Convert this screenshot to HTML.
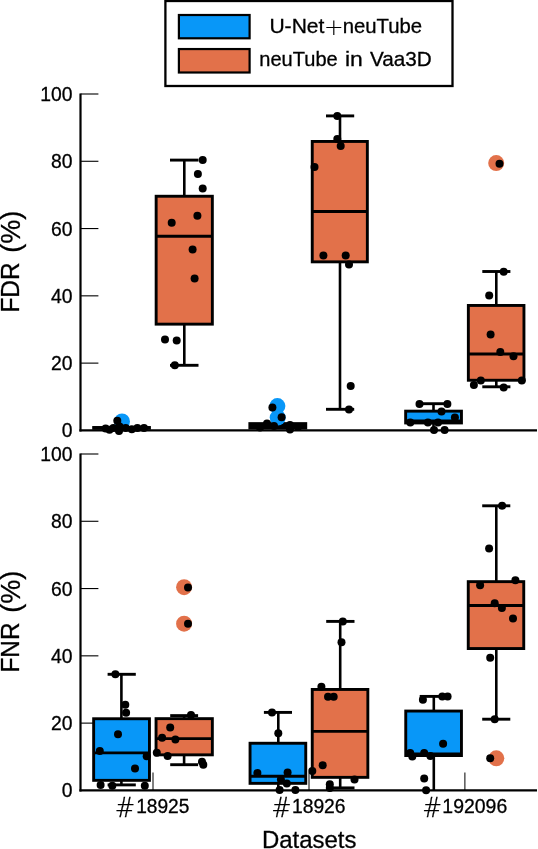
<!DOCTYPE html>
<html lang="en">
<head>
<meta charset="utf-8">
<title>FDR and FNR box plots</title>
<style>
html,body{margin:0;padding:0;background:#fff;}
svg{display:block;}
text{font-family:"Liberation Sans", sans-serif;fill:#000;stroke:#000;stroke-width:0.3px;}
</style>
</head>
<body>
<svg width="538" height="849" viewBox="0 0 538 849">
<rect x="0" y="0" width="538" height="849" fill="#fff"/>
<line x1="80.50" y1="93.40" x2="80.50" y2="431.50" stroke="#000" stroke-width="2.2"/>
<line x1="79.40" y1="430.40" x2="537.00" y2="430.40" stroke="#000" stroke-width="2.2"/>
<text x="61.74" y="437.40" font-size="20" textLength="10.76" lengthAdjust="spacingAndGlyphs">0</text>
<line x1="80.50" y1="363.12" x2="98.40" y2="363.12" stroke="#000" stroke-width="1.1"/>
<text x="51.01" y="370.12" font-size="20" textLength="21.51" lengthAdjust="spacingAndGlyphs">20</text>
<line x1="80.50" y1="295.84" x2="98.40" y2="295.84" stroke="#000" stroke-width="1.1"/>
<text x="51.01" y="302.84" font-size="20" textLength="21.51" lengthAdjust="spacingAndGlyphs">40</text>
<line x1="80.50" y1="228.56" x2="98.40" y2="228.56" stroke="#000" stroke-width="1.1"/>
<text x="51.01" y="235.56" font-size="20" textLength="21.51" lengthAdjust="spacingAndGlyphs">60</text>
<line x1="80.50" y1="161.28" x2="98.40" y2="161.28" stroke="#000" stroke-width="1.1"/>
<text x="51.01" y="168.28" font-size="20" textLength="21.51" lengthAdjust="spacingAndGlyphs">80</text>
<line x1="80.50" y1="94.00" x2="98.40" y2="94.00" stroke="#000" stroke-width="1.1"/>
<text x="40.28" y="101.00" font-size="20" textLength="32.27" lengthAdjust="spacingAndGlyphs">100</text>
<line x1="80.50" y1="453.40" x2="80.50" y2="791.50" stroke="#000" stroke-width="2.2"/>
<line x1="79.40" y1="790.40" x2="537.00" y2="790.40" stroke="#000" stroke-width="2.2"/>
<text x="61.74" y="797.40" font-size="20" textLength="10.76" lengthAdjust="spacingAndGlyphs">0</text>
<line x1="80.50" y1="723.12" x2="98.40" y2="723.12" stroke="#000" stroke-width="1.1"/>
<text x="51.01" y="730.12" font-size="20" textLength="21.51" lengthAdjust="spacingAndGlyphs">20</text>
<line x1="80.50" y1="655.84" x2="98.40" y2="655.84" stroke="#000" stroke-width="1.1"/>
<text x="51.01" y="662.84" font-size="20" textLength="21.51" lengthAdjust="spacingAndGlyphs">40</text>
<line x1="80.50" y1="588.56" x2="98.40" y2="588.56" stroke="#000" stroke-width="1.1"/>
<text x="51.01" y="595.56" font-size="20" textLength="21.51" lengthAdjust="spacingAndGlyphs">60</text>
<line x1="80.50" y1="521.28" x2="98.40" y2="521.28" stroke="#000" stroke-width="1.1"/>
<text x="51.01" y="528.28" font-size="20" textLength="21.51" lengthAdjust="spacingAndGlyphs">80</text>
<line x1="80.50" y1="454.00" x2="98.40" y2="454.00" stroke="#000" stroke-width="1.1"/>
<text x="40.28" y="461.00" font-size="20" textLength="32.27" lengthAdjust="spacingAndGlyphs">100</text>
<line x1="153.00" y1="772.50" x2="153.00" y2="790.40" stroke="#000" stroke-width="1.0"/>
<line x1="309.00" y1="772.50" x2="309.00" y2="790.40" stroke="#000" stroke-width="1.0"/>
<line x1="464.90" y1="772.50" x2="464.90" y2="790.40" stroke="#000" stroke-width="1.0"/>
<rect x="165.4" y="1.0" width="287.1" height="85.0" fill="#fff" stroke="#000" stroke-width="2.3"/>
<rect x="178.9" y="15.0" width="70.7" height="23.3" fill="#0897F8" stroke="#000" stroke-width="2.2"/>
<rect x="178.9" y="49.05" width="70.7" height="23.45" fill="#E2714A" stroke="#000" stroke-width="2.2"/>
<text><tspan x="269.42" y="32.80" font-size="21" textLength="55.02" lengthAdjust="spacingAndGlyphs">U-Net</tspan><tspan x="323.68" y="34.50" font-size="23.5" textLength="20.11" lengthAdjust="spacingAndGlyphs" style="font-family:'DejaVu Sans Light','DejaVu Sans',sans-serif;font-weight:200;stroke:none">+</tspan><tspan x="342.68" y="32.80" font-size="21" textLength="79.45" lengthAdjust="spacingAndGlyphs">neuTube</tspan></text>
<text><tspan x="259.30" y="66.40" font-size="21" textLength="78.42" lengthAdjust="spacingAndGlyphs">neuTube</tspan> <tspan x="344.91" y="66.40" font-size="21" textLength="17.86" lengthAdjust="spacingAndGlyphs">in</tspan> <tspan x="370.00" y="66.40" font-size="21" textLength="61.81" lengthAdjust="spacingAndGlyphs">Vaa3D</tspan></text>
<g transform="translate(18.7,0.0) rotate(-90)">
<text><tspan x="-312.55" y="0.00" font-size="25" textLength="50.16" lengthAdjust="spacingAndGlyphs">FDR</tspan> <tspan x="-252.72" y="1.20" font-size="27" textLength="42.09" lengthAdjust="spacingAndGlyphs">(%)</tspan></text>
</g>
<g transform="translate(18.7,360.0) rotate(-90)">
<text><tspan x="-312.55" y="0.00" font-size="25" textLength="50.16" lengthAdjust="spacingAndGlyphs">FNR</tspan> <tspan x="-252.72" y="1.20" font-size="27" textLength="42.09" lengthAdjust="spacingAndGlyphs">(%)</tspan></text>
</g>
<text><tspan x="114.87" y="816.60" font-size="26.5" textLength="20.43" lengthAdjust="spacingAndGlyphs" style="font-family:'DejaVu Sans Light','DejaVu Sans',sans-serif;font-weight:200">#</tspan><tspan x="136.16" y="812.60" font-size="20" textLength="53.22" lengthAdjust="spacingAndGlyphs">18925</tspan></text>
<text><tspan x="271.18" y="816.60" font-size="26.5" textLength="20.31" lengthAdjust="spacingAndGlyphs" style="font-family:'DejaVu Sans Light','DejaVu Sans',sans-serif;font-weight:200">#</tspan><tspan x="291.95" y="812.60" font-size="20" textLength="53.63" lengthAdjust="spacingAndGlyphs">18926</tspan></text>
<text><tspan x="422.13" y="816.60" font-size="26.5" textLength="19.82" lengthAdjust="spacingAndGlyphs" style="font-family:'DejaVu Sans Light','DejaVu Sans',sans-serif;font-weight:200">#</tspan><tspan x="442.34" y="812.60" font-size="20" textLength="64.88" lengthAdjust="spacingAndGlyphs">192096</tspan></text>
<text x="261.88" y="848.00" font-size="24.5" textLength="94.49" lengthAdjust="spacingAndGlyphs">Datasets</text>
<rect x="93.65" y="427.50" width="55.80" height="0.80" fill="#0897F8" stroke="#000" stroke-width="2.9"/>
<line x1="93.65" y1="427.90" x2="149.45" y2="427.90" stroke="#000" stroke-width="2.9"/>
<line x1="184.30" y1="160.10" x2="184.30" y2="195.80" stroke="#000" stroke-width="2.6"/>
<line x1="184.30" y1="324.60" x2="184.30" y2="365.30" stroke="#000" stroke-width="2.6"/>
<line x1="170.00" y1="160.10" x2="198.50" y2="160.10" stroke="#000" stroke-width="2.9"/>
<line x1="170.00" y1="365.30" x2="198.50" y2="365.30" stroke="#000" stroke-width="2.9"/>
<rect x="156.15" y="196.25" width="56.20" height="127.90" fill="#E2714A" stroke="#000" stroke-width="2.9"/>
<line x1="156.15" y1="236.20" x2="212.35" y2="236.20" stroke="#000" stroke-width="2.9"/>
<rect x="249.85" y="423.60" width="55.90" height="4.40" fill="#0897F8" stroke="#000" stroke-width="2.9"/>
<line x1="249.85" y1="426.00" x2="305.75" y2="426.00" stroke="#000" stroke-width="2.9"/>
<line x1="340.00" y1="115.90" x2="340.00" y2="141.00" stroke="#000" stroke-width="2.6"/>
<line x1="340.00" y1="262.30" x2="340.00" y2="409.30" stroke="#000" stroke-width="2.6"/>
<line x1="326.00" y1="115.90" x2="354.20" y2="115.90" stroke="#000" stroke-width="2.9"/>
<line x1="326.00" y1="409.30" x2="354.20" y2="409.30" stroke="#000" stroke-width="2.9"/>
<rect x="312.25" y="141.45" width="55.10" height="120.40" fill="#E2714A" stroke="#000" stroke-width="2.9"/>
<line x1="312.25" y1="211.50" x2="367.35" y2="211.50" stroke="#000" stroke-width="2.9"/>
<line x1="433.50" y1="403.70" x2="433.50" y2="411.00" stroke="#000" stroke-width="2.6"/>
<line x1="433.50" y1="423.00" x2="433.50" y2="430.40" stroke="#000" stroke-width="2.6"/>
<line x1="419.50" y1="403.70" x2="447.40" y2="403.70" stroke="#000" stroke-width="2.9"/>
<rect x="405.65" y="411.15" width="55.80" height="11.80" fill="#0897F8" stroke="#000" stroke-width="2.9"/>
<line x1="405.65" y1="420.90" x2="461.45" y2="420.90" stroke="#000" stroke-width="2.9"/>
<line x1="496.30" y1="271.50" x2="496.30" y2="305.00" stroke="#000" stroke-width="2.6"/>
<line x1="496.30" y1="380.70" x2="496.30" y2="386.80" stroke="#000" stroke-width="2.6"/>
<line x1="482.30" y1="271.50" x2="510.40" y2="271.50" stroke="#000" stroke-width="2.9"/>
<line x1="482.30" y1="386.80" x2="510.40" y2="386.80" stroke="#000" stroke-width="2.9"/>
<rect x="468.35" y="305.45" width="55.60" height="74.80" fill="#E2714A" stroke="#000" stroke-width="2.9"/>
<line x1="468.35" y1="354.00" x2="523.95" y2="354.00" stroke="#000" stroke-width="2.9"/>
<circle cx="122.0" cy="421.5" r="8.0" fill="#0897F8"/>
<circle cx="277.4" cy="406.1" r="8.0" fill="#0897F8"/>
<circle cx="277.7" cy="417.6" r="8.0" fill="#0897F8"/>
<circle cx="496.2" cy="163.1" r="8.0" fill="#E2714A"/>
<circle cx="105.6" cy="428.6" r="4.0" fill="#000"/>
<circle cx="109.5" cy="429.7" r="4.0" fill="#000"/>
<circle cx="113.4" cy="428.0" r="4.0" fill="#000"/>
<circle cx="117.3" cy="420.8" r="4.0" fill="#000"/>
<circle cx="119.0" cy="430.9" r="4.0" fill="#000"/>
<circle cx="119.5" cy="426.4" r="4.0" fill="#000"/>
<circle cx="125.7" cy="428.0" r="4.0" fill="#000"/>
<circle cx="131.8" cy="429.2" r="4.0" fill="#000"/>
<circle cx="137.4" cy="428.0" r="4.0" fill="#000"/>
<circle cx="144.0" cy="428.0" r="4.0" fill="#000"/>
<circle cx="202.7" cy="160.1" r="4.0" fill="#000"/>
<circle cx="197.9" cy="174.0" r="4.0" fill="#000"/>
<circle cx="202.7" cy="188.5" r="4.0" fill="#000"/>
<circle cx="197.4" cy="215.8" r="4.0" fill="#000"/>
<circle cx="171.7" cy="222.8" r="4.0" fill="#000"/>
<circle cx="192.6" cy="249.6" r="4.0" fill="#000"/>
<circle cx="194.6" cy="278.6" r="4.0" fill="#000"/>
<circle cx="165.0" cy="339.6" r="4.0" fill="#000"/>
<circle cx="176.7" cy="340.5" r="4.0" fill="#000"/>
<circle cx="174.8" cy="365.3" r="4.0" fill="#000"/>
<circle cx="272.4" cy="407.5" r="4.0" fill="#000"/>
<circle cx="281.6" cy="417.3" r="4.0" fill="#000"/>
<circle cx="260.0" cy="427.5" r="4.0" fill="#000"/>
<circle cx="267.0" cy="423.5" r="4.0" fill="#000"/>
<circle cx="274.0" cy="426.0" r="4.0" fill="#000"/>
<circle cx="290.0" cy="429.5" r="4.0" fill="#000"/>
<circle cx="290.0" cy="425.0" r="4.0" fill="#000"/>
<circle cx="298.0" cy="427.0" r="4.0" fill="#000"/>
<circle cx="337.3" cy="115.9" r="4.0" fill="#000"/>
<circle cx="337.3" cy="139.0" r="4.0" fill="#000"/>
<circle cx="340.7" cy="146.0" r="4.0" fill="#000"/>
<circle cx="314.5" cy="166.9" r="4.0" fill="#000"/>
<circle cx="323.4" cy="255.6" r="4.0" fill="#000"/>
<circle cx="345.7" cy="255.6" r="4.0" fill="#000"/>
<circle cx="349.0" cy="264.5" r="4.0" fill="#000"/>
<circle cx="350.7" cy="386.0" r="4.0" fill="#000"/>
<circle cx="349.0" cy="409.5" r="4.0" fill="#000"/>
<circle cx="419.5" cy="403.9" r="4.0" fill="#000"/>
<circle cx="447.4" cy="403.9" r="4.0" fill="#000"/>
<circle cx="441.5" cy="411.4" r="4.0" fill="#000"/>
<circle cx="454.9" cy="417.5" r="4.0" fill="#000"/>
<circle cx="410.3" cy="422.5" r="4.0" fill="#000"/>
<circle cx="427.9" cy="422.5" r="4.0" fill="#000"/>
<circle cx="438.0" cy="422.5" r="4.0" fill="#000"/>
<circle cx="434.0" cy="430.0" r="4.0" fill="#000"/>
<circle cx="444.6" cy="430.0" r="4.0" fill="#000"/>
<circle cx="499.5" cy="163.7" r="4.0" fill="#000"/>
<circle cx="503.7" cy="271.7" r="4.0" fill="#000"/>
<circle cx="489.2" cy="295.4" r="4.0" fill="#000"/>
<circle cx="490.6" cy="334.4" r="4.0" fill="#000"/>
<circle cx="500.3" cy="352.0" r="4.0" fill="#000"/>
<circle cx="513.5" cy="356.2" r="4.0" fill="#000"/>
<circle cx="480.8" cy="380.4" r="4.0" fill="#000"/>
<circle cx="473.9" cy="384.9" r="4.0" fill="#000"/>
<circle cx="521.8" cy="380.4" r="4.0" fill="#000"/>
<circle cx="503.7" cy="387.4" r="4.0" fill="#000"/>
<circle cx="184.1" cy="587.2" r="8.0" fill="#E2714A"/>
<circle cx="184.1" cy="623.7" r="8.0" fill="#E2714A"/>
<circle cx="496.3" cy="758.3" r="8.0" fill="#E2714A"/>
<line x1="121.40" y1="674.30" x2="121.40" y2="718.30" stroke="#000" stroke-width="2.6"/>
<line x1="121.40" y1="780.80" x2="121.40" y2="784.90" stroke="#000" stroke-width="2.6"/>
<line x1="107.60" y1="674.30" x2="135.80" y2="674.30" stroke="#000" stroke-width="2.9"/>
<line x1="107.60" y1="784.90" x2="135.80" y2="784.90" stroke="#000" stroke-width="2.9"/>
<rect x="93.65" y="718.75" width="55.80" height="61.60" fill="#0897F8" stroke="#000" stroke-width="2.9"/>
<line x1="93.65" y1="752.90" x2="149.45" y2="752.90" stroke="#000" stroke-width="2.9"/>
<line x1="184.10" y1="715.60" x2="184.10" y2="718.20" stroke="#000" stroke-width="2.6"/>
<line x1="184.10" y1="755.30" x2="184.10" y2="764.70" stroke="#000" stroke-width="2.6"/>
<line x1="170.20" y1="715.60" x2="198.10" y2="715.60" stroke="#000" stroke-width="2.9"/>
<line x1="170.20" y1="764.70" x2="198.10" y2="764.70" stroke="#000" stroke-width="2.9"/>
<rect x="156.05" y="718.65" width="56.30" height="36.20" fill="#E2714A" stroke="#000" stroke-width="2.9"/>
<line x1="156.05" y1="738.60" x2="212.35" y2="738.60" stroke="#000" stroke-width="2.9"/>
<line x1="278.30" y1="712.40" x2="278.30" y2="742.80" stroke="#000" stroke-width="2.6"/>
<line x1="278.30" y1="783.80" x2="278.30" y2="790.40" stroke="#000" stroke-width="2.6"/>
<line x1="263.90" y1="712.40" x2="292.00" y2="712.40" stroke="#000" stroke-width="2.9"/>
<rect x="250.05" y="743.25" width="55.70" height="40.10" fill="#0897F8" stroke="#000" stroke-width="2.9"/>
<line x1="250.05" y1="776.20" x2="305.75" y2="776.20" stroke="#000" stroke-width="2.9"/>
<line x1="340.20" y1="621.40" x2="340.20" y2="689.00" stroke="#000" stroke-width="2.6"/>
<line x1="340.20" y1="777.80" x2="340.20" y2="787.90" stroke="#000" stroke-width="2.6"/>
<line x1="326.20" y1="621.40" x2="354.50" y2="621.40" stroke="#000" stroke-width="2.9"/>
<line x1="326.20" y1="787.90" x2="354.50" y2="787.90" stroke="#000" stroke-width="2.9"/>
<rect x="312.25" y="689.45" width="55.60" height="87.90" fill="#E2714A" stroke="#000" stroke-width="2.9"/>
<line x1="312.25" y1="731.40" x2="367.85" y2="731.40" stroke="#000" stroke-width="2.9"/>
<line x1="433.80" y1="696.40" x2="433.80" y2="710.60" stroke="#000" stroke-width="2.6"/>
<line x1="433.80" y1="756.00" x2="433.80" y2="790.40" stroke="#000" stroke-width="2.6"/>
<line x1="419.70" y1="696.40" x2="448.00" y2="696.40" stroke="#000" stroke-width="2.9"/>
<rect x="405.75" y="711.05" width="55.70" height="44.50" fill="#0897F8" stroke="#000" stroke-width="2.9"/>
<line x1="405.75" y1="754.00" x2="461.45" y2="754.00" stroke="#000" stroke-width="2.9"/>
<line x1="496.30" y1="505.80" x2="496.30" y2="581.20" stroke="#000" stroke-width="2.6"/>
<line x1="496.30" y1="649.00" x2="496.30" y2="719.20" stroke="#000" stroke-width="2.6"/>
<line x1="482.20" y1="505.80" x2="510.30" y2="505.80" stroke="#000" stroke-width="2.9"/>
<line x1="482.20" y1="719.20" x2="510.30" y2="719.20" stroke="#000" stroke-width="2.9"/>
<rect x="468.25" y="581.65" width="55.50" height="66.90" fill="#E2714A" stroke="#000" stroke-width="2.9"/>
<line x1="468.25" y1="605.50" x2="523.75" y2="605.50" stroke="#000" stroke-width="2.9"/>
<circle cx="115.4" cy="674.3" r="4.0" fill="#000"/>
<circle cx="125.3" cy="704.8" r="4.0" fill="#000"/>
<circle cx="126.1" cy="712.8" r="4.0" fill="#000"/>
<circle cx="118.0" cy="734.2" r="4.0" fill="#000"/>
<circle cx="99.8" cy="751.1" r="4.0" fill="#000"/>
<circle cx="146.7" cy="756.3" r="4.0" fill="#000"/>
<circle cx="135.0" cy="768.5" r="4.0" fill="#000"/>
<circle cx="100.6" cy="784.9" r="4.0" fill="#000"/>
<circle cx="112.3" cy="785.7" r="4.0" fill="#000"/>
<circle cx="144.8" cy="785.7" r="4.0" fill="#000"/>
<circle cx="188.0" cy="587.6" r="4.0" fill="#000"/>
<circle cx="188.0" cy="623.7" r="4.0" fill="#000"/>
<circle cx="191.0" cy="715.0" r="4.0" fill="#000"/>
<circle cx="170.2" cy="727.6" r="4.0" fill="#000"/>
<circle cx="162.1" cy="737.7" r="4.0" fill="#000"/>
<circle cx="175.4" cy="739.4" r="4.0" fill="#000"/>
<circle cx="156.8" cy="752.7" r="4.0" fill="#000"/>
<circle cx="167.6" cy="756.0" r="4.0" fill="#000"/>
<circle cx="202.0" cy="761.8" r="4.0" fill="#000"/>
<circle cx="203.3" cy="764.7" r="4.0" fill="#000"/>
<circle cx="272.0" cy="712.4" r="4.0" fill="#000"/>
<circle cx="278.3" cy="733.2" r="4.0" fill="#000"/>
<circle cx="257.4" cy="773.0" r="4.0" fill="#000"/>
<circle cx="287.6" cy="772.5" r="4.0" fill="#000"/>
<circle cx="280.9" cy="779.5" r="4.0" fill="#000"/>
<circle cx="286.8" cy="783.5" r="4.0" fill="#000"/>
<circle cx="279.6" cy="790.0" r="4.0" fill="#000"/>
<circle cx="295.4" cy="790.0" r="4.0" fill="#000"/>
<circle cx="342.8" cy="621.4" r="4.0" fill="#000"/>
<circle cx="341.5" cy="642.2" r="4.0" fill="#000"/>
<circle cx="321.4" cy="686.7" r="4.0" fill="#000"/>
<circle cx="328.0" cy="696.8" r="4.0" fill="#000"/>
<circle cx="333.7" cy="696.8" r="4.0" fill="#000"/>
<circle cx="322.7" cy="765.2" r="4.0" fill="#000"/>
<circle cx="312.3" cy="771.0" r="4.0" fill="#000"/>
<circle cx="354.5" cy="779.6" r="4.0" fill="#000"/>
<circle cx="329.8" cy="784.2" r="4.0" fill="#000"/>
<circle cx="329.8" cy="787.9" r="4.0" fill="#000"/>
<circle cx="422.9" cy="699.8" r="4.0" fill="#000"/>
<circle cx="442.3" cy="696.4" r="4.0" fill="#000"/>
<circle cx="447.6" cy="696.4" r="4.0" fill="#000"/>
<circle cx="443.1" cy="743.7" r="4.0" fill="#000"/>
<circle cx="410.2" cy="753.0" r="4.0" fill="#000"/>
<circle cx="412.3" cy="756.4" r="4.0" fill="#000"/>
<circle cx="424.2" cy="753.0" r="4.0" fill="#000"/>
<circle cx="430.4" cy="755.9" r="4.0" fill="#000"/>
<circle cx="424.2" cy="778.5" r="4.0" fill="#000"/>
<circle cx="426.1" cy="790.2" r="4.0" fill="#000"/>
<circle cx="502.1" cy="505.8" r="4.0" fill="#000"/>
<circle cx="489.1" cy="548.6" r="4.0" fill="#000"/>
<circle cx="515.4" cy="580.2" r="4.0" fill="#000"/>
<circle cx="480.1" cy="585.3" r="4.0" fill="#000"/>
<circle cx="494.7" cy="603.3" r="4.0" fill="#000"/>
<circle cx="501.9" cy="607.9" r="4.0" fill="#000"/>
<circle cx="513.0" cy="618.5" r="4.0" fill="#000"/>
<circle cx="490.2" cy="657.8" r="4.0" fill="#000"/>
<circle cx="494.7" cy="719.2" r="4.0" fill="#000"/>
<circle cx="490.2" cy="758.3" r="4.0" fill="#000"/>
</svg>
</body>
</html>
